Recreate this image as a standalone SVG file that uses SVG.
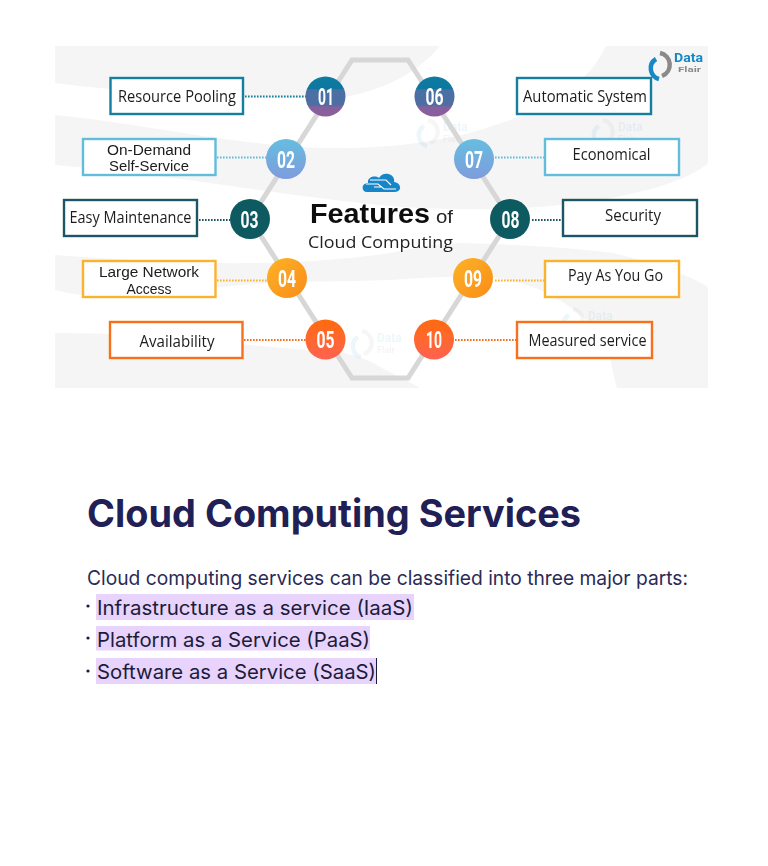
<svg xmlns="http://www.w3.org/2000/svg" xmlns:xlink="http://www.w3.org/1999/xlink" width="768" height="866" viewBox="0 0 768 866">
<style>
.lab{font-family:"Open Sans","Liberation Sans",sans-serif;font-size:15.5px;fill:#1c1c1c;text-anchor:middle}
.two{font-family:"Liberation Sans",sans-serif;font-size:14px}
.num{font-family:Roboto,"Liberation Sans",sans-serif;font-weight:700;font-size:23px;fill:#fff;text-anchor:middle}
.box{fill:#fff;stroke-width:2.4}
.c1{stroke:#137f9f}.c2{stroke:#62bddc}.c3{stroke:#1f5565}.c4{stroke:#fbb22e}.c5{stroke:#f8701a}
.dot{fill:none;stroke-width:2;stroke-dasharray:1.6 1.4}
.body{font-family:Inter,Roboto,sans-serif;font-size:20px;fill:#2a2a58}
.item{font-family:Inter,Roboto,sans-serif;font-size:20px;fill:#1c1c3a}
.hl{fill:#e7d3fb}
.band{fill:#f5f5f5}
.wm{opacity:.07}
.soft{filter:url(#soft)}
</style>
<defs>
<filter id="soft" x="-5%" y="-5%" width="110%" height="110%"><feGaussianBlur stdDeviation="0.35"/></filter>
<linearGradient id="g1" x1="0" y1="0" x2="0" y2="1"><stop offset="0" stop-color="#0b7ba3"/><stop offset=".3" stop-color="#0f789f"/><stop offset=".33" stop-color="#4a6fa3"/><stop offset=".72" stop-color="#4f6ea3"/><stop offset=".76" stop-color="#85619f"/><stop offset="1" stop-color="#8c5c9b"/></linearGradient>
<linearGradient id="g2" x1="0" y1="0" x2="0" y2="1"><stop offset="0" stop-color="#66bde0"/><stop offset="1" stop-color="#7e9cdc"/></linearGradient>
<linearGradient id="g4" x1="0" y1="0" x2="1" y2="1"><stop offset="0" stop-color="#fdb323"/><stop offset="1" stop-color="#f98c1c"/></linearGradient>
<linearGradient id="g5" x1="0" y1="0" x2="0" y2="1"><stop offset="0" stop-color="#ff6a0e"/><stop offset="1" stop-color="#ff6350"/></linearGradient>
<g id="mark"><path d="M13 1A12 12 0 0 1 15 24" fill="none" stroke="#8a8a8a" stroke-width="4.5"/><path d="M9 7A11 11 0 0 0 12 27" fill="none" stroke="#1688c6" stroke-width="4.5"/></g>
<g id="wmk" class="wm"><use xlink:href="#mark"/><text x="28" y="12" font-family="Roboto,sans-serif" font-weight="700" font-size="12" fill="#1688c6">Data</text><text x="28" y="23" font-family="Roboto,sans-serif" font-weight="700" font-size="9" fill="#777">Flair</text></g>
</defs>
<rect width="768" height="866" fill="#fff"/>
<g id="panel">
<rect x="55" y="46" width="653" height="342" fill="#fff"/>
<path class="band" d="M55 46H440C420 70 390 88 345 97C260 100 150 95 55 83Z"/>
<path class="band" d="M55 115C130 122 220 142 300 147C345 150 420 148 480 130C540 112 585 90 606 46H708V163C690 180 640 195 580 203C520 210 450 212 380 205C280 195 150 172 55 165Z"/>
<path class="band" d="M55 255C150 262 280 270 390 253C420 247 440 243 463 243C520 245 570 247 613 253C650 262 690 275 708 287V388H617C612 370 610 355 607 343C590 320 570 305 547 293C525 282 500 278 480 277C450 276 420 278 390 280C340 282 310 281 283 282C230 285 190 291 150 297C110 300 80 296 55 290Z"/>
<path class="band" d="M55 333C120 333 190 337 250 345C290 349 320 350 340 352C355 355 370 360 380 367C395 375 410 382 420 388H55Z"/>
</g>
<g id="watermarks">
<use xlink:href="#wmk" x="415" y="119"/><use xlink:href="#wmk" x="590" y="119"/><use xlink:href="#wmk" x="112" y="325"/><use xlink:href="#wmk" x="349" y="330"/><use xlink:href="#wmk" x="560" y="308"/>
</g>
<g id="hexagon"><path d="M352 60H408L510 219L408 378H352L250 219Z" fill="none" stroke="#d7d7d7" stroke-width="5"/></g>
<g id="connectors" class="soft">
<path class="dot" stroke="#137f9f" d="M245 96.5H310"/>
<path class="dot" stroke="#62bddc" d="M217 157.5H268"/>
<path class="dot" stroke="#1f5565" d="M199 220H232"/>
<path class="dot" stroke="#fbb22e" d="M217 280.5H268"/>
<path class="dot" stroke="#f8701a" d="M244 340H306"/>
<path class="dot" stroke="#62bddc" d="M495 157.5H544"/>
<path class="dot" stroke="#1f5565" d="M532 220H562"/>
<path class="dot" stroke="#fbb22e" d="M495 280.5H544"/>
<path class="dot" stroke="#f8701a" d="M455 340H517"/>
</g>
<g id="node-01" class="soft"><rect class="box c1" x="110.5" y="78" width="132.5" height="36"/><text class="lab" x="177" y="101.5" textLength="118" lengthAdjust="spacingAndGlyphs">Resource Pooling</text><circle cx="325.5" cy="96.5" r="20" fill="url(#g1)"/><text class="num" x="326" y="105" textLength="16" lengthAdjust="spacingAndGlyphs">01</text></g>
<g id="node-02" class="soft"><rect class="box c2" x="83" y="139" width="132.5" height="36"/><text class="lab two" x="149" y="154.5" textLength="84" lengthAdjust="spacingAndGlyphs">On-Demand</text><text class="lab two" x="149" y="171" textLength="80" lengthAdjust="spacingAndGlyphs">Self-Service</text><circle cx="286" cy="159" r="20" fill="url(#g2)"/><text class="num" x="286" y="167.5" textLength="18" lengthAdjust="spacingAndGlyphs">02</text></g>
<g id="node-03" class="soft"><rect class="box c3" x="64" y="200" width="133" height="36"/><text class="lab" x="130.5" y="223" textLength="122" lengthAdjust="spacingAndGlyphs">Easy Maintenance</text><circle cx="250" cy="219" r="20" fill="#0f5a60"/><text class="num" x="249.5" y="227.5" textLength="18" lengthAdjust="spacingAndGlyphs">03</text></g>
<g id="node-04" class="soft"><rect class="box c4" x="83" y="261" width="132.5" height="36"/><text class="lab two" x="149" y="277" textLength="100" lengthAdjust="spacingAndGlyphs">Large Network</text><text class="lab two" x="149" y="293.5" textLength="45" lengthAdjust="spacingAndGlyphs">Access</text><circle cx="287" cy="278" r="20" fill="url(#g4)"/><text class="num" x="287" y="286.5" textLength="18" lengthAdjust="spacingAndGlyphs">04</text></g>
<g id="node-05" class="soft"><rect class="box c5" x="110" y="322" width="132.5" height="36"/><text class="lab" x="177" y="347" textLength="75" lengthAdjust="spacingAndGlyphs">Availability</text><circle cx="325.5" cy="339.5" r="20" fill="url(#g5)"/><text class="num" x="325.5" y="348" textLength="18" lengthAdjust="spacingAndGlyphs">05</text></g>
<g id="node-06" class="soft"><rect class="box c1" x="517" y="78" width="134" height="36"/><text class="lab" x="585" y="101.5" textLength="124" lengthAdjust="spacingAndGlyphs">Automatic System</text><circle cx="434.5" cy="96.5" r="20" fill="url(#g1)"/><text class="num" x="434.5" y="105" textLength="18" lengthAdjust="spacingAndGlyphs">06</text></g>
<g id="node-07" class="soft"><rect class="box c2" x="545" y="139" width="134" height="36"/><text class="lab" x="611.5" y="160" textLength="78" lengthAdjust="spacingAndGlyphs">Economical</text><circle cx="474" cy="159" r="20" fill="url(#g2)"/><text class="num" x="474" y="167.5" textLength="18" lengthAdjust="spacingAndGlyphs">07</text></g>
<g id="node-08" class="soft"><rect class="box c3" x="563" y="200" width="134" height="36"/><text class="lab" x="633" y="220.5" textLength="56" lengthAdjust="spacingAndGlyphs">Security</text><circle cx="510" cy="219" r="20" fill="#0f5a60"/><text class="num" x="510.5" y="227.5" textLength="18" lengthAdjust="spacingAndGlyphs">08</text></g>
<g id="node-09" class="soft"><rect class="box c4" x="545" y="261" width="134" height="36"/><text class="lab" x="615.5" y="281" textLength="95" lengthAdjust="spacingAndGlyphs">Pay As You Go</text><circle cx="473" cy="278" r="20" fill="url(#g4)"/><text class="num" x="473" y="286.5" textLength="18" lengthAdjust="spacingAndGlyphs">09</text></g>
<g id="node-10" class="soft"><rect class="box c5" x="517" y="322" width="135" height="36"/><text class="lab" x="587.5" y="346" textLength="118" lengthAdjust="spacingAndGlyphs">Measured service</text><circle cx="434" cy="339.5" r="20" fill="url(#g5)"/><text class="num" x="434" y="348" textLength="16" lengthAdjust="spacingAndGlyphs">10</text></g>
<g id="title" class="soft">
<g id="cloud"><path d="M367 192C361 192 361 183 368 183C367 177 375 175 379 178C383 170 396 174 394 182C402 183 402 192 395 192Z" fill="#1586c8"/><path d="M366 184H378L384 189H396M370 180H386L391 185M374 187H381" fill="none" stroke="#fff" stroke-width="1.1"/></g>
<text x="310" y="222.5" font-family="'Liberation Sans',sans-serif" font-weight="700" font-size="28px" fill="#111" textLength="120" lengthAdjust="spacingAndGlyphs">Features</text>
<text x="436" y="223" font-family="'Liberation Sans',sans-serif" font-size="18px" fill="#222" textLength="17" lengthAdjust="spacingAndGlyphs">of</text>
<text x="308" y="247.5" font-family="'Open Sans',sans-serif" font-size="17px" fill="#222" textLength="145" lengthAdjust="spacingAndGlyphs">Cloud Computing</text>
</g>
<g id="logo" class="soft"><use xlink:href="#mark" x="647" y="52"/><text x="674" y="62" font-family="Roboto,sans-serif" font-weight="700" font-size="12.5px" fill="#1688c6" textLength="29" lengthAdjust="spacingAndGlyphs">Data</text><text x="678" y="72" font-family="Roboto,sans-serif" font-weight="700" font-size="8px" fill="#8a8a8a" textLength="23" lengthAdjust="spacingAndGlyphs">Flair</text></g>
<g id="article">
<text x="87" y="527" font-family="Inter,Roboto,sans-serif" font-weight="700" font-size="38px" fill="#1f2055" textLength="494" lengthAdjust="spacingAndGlyphs">Cloud Computing Services</text>
<text class="body" x="87" y="585" textLength="601" lengthAdjust="spacingAndGlyphs">Cloud computing services can be classified into three major parts:</text>
<rect class="hl" x="96" y="594" width="318" height="26"/><rect class="hl" x="96" y="626" width="274" height="24.5"/><rect class="hl" x="96" y="658" width="280" height="26"/>
<circle cx="88" cy="606" r="1.6" fill="#1c1c3a"/><circle cx="88" cy="638" r="1.6" fill="#1c1c3a"/><circle cx="88" cy="671" r="1.6" fill="#1c1c3a"/>
<text class="item" x="97" y="615" textLength="316" lengthAdjust="spacingAndGlyphs">Infrastructure as a service (IaaS)</text>
<text class="item" x="97" y="647" textLength="273" lengthAdjust="spacingAndGlyphs">Platform as a Service (PaaS)</text>
<text class="item" x="97" y="679" textLength="279" lengthAdjust="spacingAndGlyphs">Software as a Service (SaaS)</text>
<path d="M376.5 658V684" stroke="#1c1c3a" stroke-width="1"/>
</g>
</svg>
